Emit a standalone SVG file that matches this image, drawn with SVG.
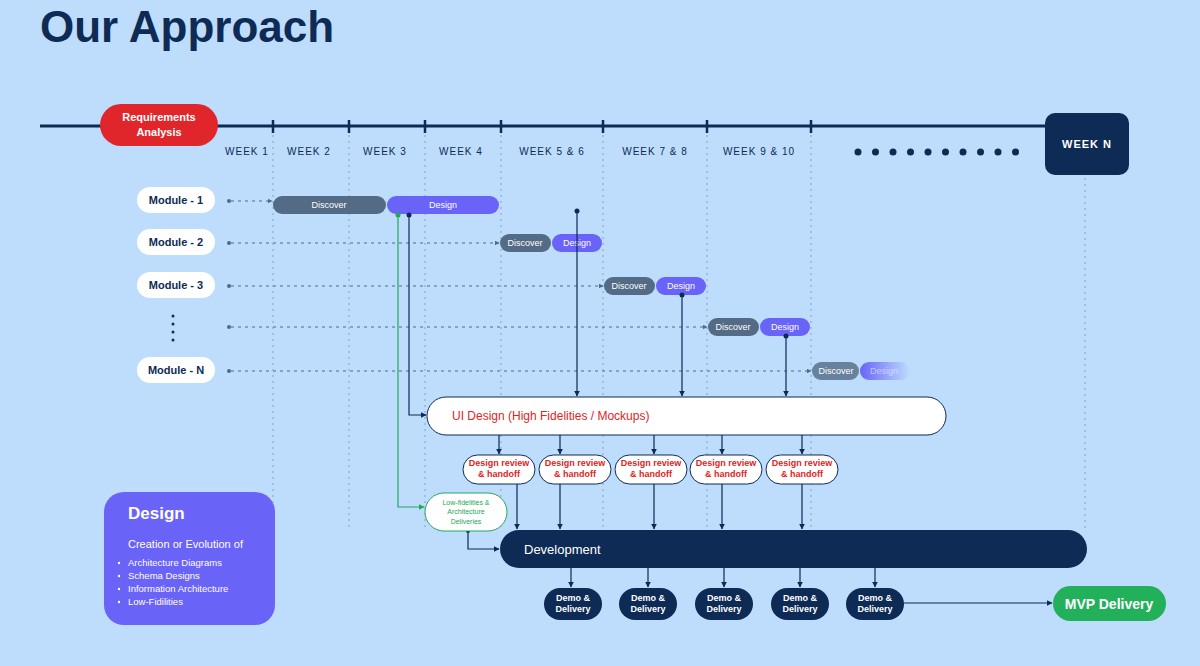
<svg xmlns="http://www.w3.org/2000/svg" width="1200" height="666" viewBox="0 0 1200 666">
<defs>
<marker id="a" viewBox="0 0 10 10" refX="9" refY="5" markerWidth="5" markerHeight="5" orient="auto"><path d="M0,0L10,5L0,10z" fill="#0d2b55"/></marker>
<marker id="ad" viewBox="0 0 10 10" refX="9" refY="5" markerWidth="5" markerHeight="5" orient="auto"><path d="M0,0L10,5L0,10z" fill="#4d6a8a"/></marker>
<marker id="ag" viewBox="0 0 10 10" refX="9" refY="5" markerWidth="5" markerHeight="5" orient="auto"><path d="M0,0L10,5L0,10z" fill="#22a85a"/></marker>
<linearGradient id="fade" x1="0" x2="1"><stop offset="0" stop-color="#6a63f8"/><stop offset="1" stop-color="#6a63f8" stop-opacity="0"/></linearGradient>
</defs>
<style>
text{font-family:"Liberation Sans",Arial,sans-serif}
.wk{font-size:10px;fill:#0d2b55;letter-spacing:1px;text-anchor:middle}
.mod{fill:#fff}
.modt{font-size:11px;font-weight:bold;fill:#0d2b55;text-anchor:middle}
.disc{fill:#536b85}.des{fill:#6a63f8}
.pt{font-size:9px;fill:#fff;text-anchor:middle}
.grid{stroke:#8aa2bd;stroke-width:1;stroke-dasharray:2 4}
.dash{stroke:#4d6a8a;stroke-width:1;stroke-dasharray:3 4;fill:none}
.ln{stroke:#0d2b55;stroke-width:1.2;fill:none}
.rev{fill:#fff;stroke:#0d2b55;stroke-width:1}
.revt{font-size:9px;font-weight:bold;fill:#e02424;text-anchor:middle}
.demo{fill:#0d2b55}
.demot{font-size:9px;font-weight:bold;fill:#fff;text-anchor:middle}
</style>
<rect width="1200" height="666" fill="#bedcfc"/>
<text x="40" y="42" font-size="44" font-weight="bold" fill="#0d2b55">Our Approach</text>
<g id="grid">
<line class="grid" x1="273" y1="135" x2="273" y2="530"/><line class="grid" x1="349" y1="135" x2="349" y2="530"/><line class="grid" x1="425" y1="135" x2="425" y2="530"/><line class="grid" x1="501" y1="135" x2="501" y2="530"/><line class="grid" x1="603" y1="135" x2="603" y2="530"/><line class="grid" x1="707" y1="135" x2="707" y2="530"/><line class="grid" x1="811" y1="135" x2="811" y2="530"/><line class="grid" x1="1085" y1="178" x2="1085" y2="530"/>
</g>
<g id="timeline">
<line x1="40" y1="126" x2="1050" y2="126" stroke="#0d2b55" stroke-width="3"/>
<g stroke="#0d2b55" stroke-width="2.5"><line x1="273" y1="120" x2="273" y2="133"/><line x1="349" y1="120" x2="349" y2="133"/><line x1="425" y1="120" x2="425" y2="133"/><line x1="501" y1="120" x2="501" y2="133"/><line x1="603" y1="120" x2="603" y2="133"/><line x1="707" y1="120" x2="707" y2="133"/><line x1="811" y1="120" x2="811" y2="133"/></g>
<text class="wk" x="247" y="155">WEEK 1</text><text class="wk" x="309" y="155">WEEK 2</text><text class="wk" x="385" y="155">WEEK 3</text><text class="wk" x="461" y="155">WEEK 4</text><text class="wk" x="552" y="155">WEEK 5 &amp; 6</text><text class="wk" x="655" y="155">WEEK 7 &amp; 8</text><text class="wk" x="759" y="155">WEEK 9 &amp; 10</text>
<g fill="#0d2b55"><circle cx="858" cy="152" r="3.5"/><circle cx="875.5" cy="152" r="3.5"/><circle cx="893" cy="152" r="3.5"/><circle cx="910.5" cy="152" r="3.5"/><circle cx="928" cy="152" r="3.5"/><circle cx="945.5" cy="152" r="3.5"/><circle cx="963" cy="152" r="3.5"/><circle cx="980.5" cy="152" r="3.5"/><circle cx="998" cy="152" r="3.5"/><circle cx="1015.5" cy="152" r="3.5"/></g>
</g>
<g id="req"><rect x="100" y="104" width="118" height="42" rx="21" fill="#e0262b"/><text x="159" y="121" font-size="11" font-weight="bold" fill="#fff" text-anchor="middle">Requirements</text><text x="159" y="136" font-size="11" font-weight="bold" fill="#fff" text-anchor="middle">Analysis</text></g>
<g id="weekn"><rect x="1045" y="113" width="84" height="62" rx="10" fill="#0d2b55"/><text x="1087" y="148" font-size="11" font-weight="bold" fill="#fff" text-anchor="middle" letter-spacing="1">WEEK N</text></g>
<g id="modules">
<rect class="mod" x="137" y="187" width="78" height="26" rx="13"/><text class="modt" x="176" y="204">Module - 1</text>
<rect class="mod" x="137" y="229" width="78" height="26" rx="13"/><text class="modt" x="176" y="246">Module - 2</text>
<rect class="mod" x="137" y="272" width="78" height="26" rx="13"/><text class="modt" x="176" y="289">Module - 3</text>
<g fill="#0d2b55"><circle cx="173" cy="316" r="1.5"/><circle cx="173" cy="324" r="1.5"/><circle cx="173" cy="332" r="1.5"/><circle cx="173" cy="340" r="1.5"/></g>
<rect class="mod" x="137" y="357" width="78" height="26" rx="13"/><text class="modt" x="176" y="374">Module - N</text>
</g>
<g id="phases">
<rect class="disc" x="273" y="196" width="113" height="18" rx="9"/><text class="pt" x="329" y="208">Discover</text>
<rect class="des" x="387" y="196" width="112" height="18" rx="9"/><text class="pt" x="443" y="208">Design</text>
<rect class="disc" x="500" y="234" width="51" height="18" rx="9"/><text class="pt" x="525" y="246">Discover</text>
<rect class="des" x="552" y="234" width="50" height="18" rx="9"/><text class="pt" x="577" y="246">Design</text>
<rect class="disc" x="604" y="277" width="51" height="18" rx="9"/><text class="pt" x="629" y="289">Discover</text>
<rect class="des" x="656" y="277" width="50" height="18" rx="9"/><text class="pt" x="681" y="289">Design</text>
<rect class="disc" x="708" y="318" width="51" height="18" rx="9"/><text class="pt" x="733" y="330">Discover</text>
<rect class="des" x="760" y="318" width="50" height="18" rx="9"/><text class="pt" x="785" y="330">Design</text>
<rect class="disc" x="812" y="362" width="47" height="18" rx="9" opacity="0.8"/><text class="pt" x="836" y="374">Discover</text>
<rect x="860" y="362" width="50" height="18" rx="9" fill="url(#fade)"/><text class="pt" x="884" y="374" opacity="0.5">Design</text>
</g>
<g id="connectors">
<circle cx="229" cy="201" r="2" fill="#4d6a8a"/><line class="dash" x1="231" y1="201" x2="272" y2="201" marker-end="url(#ad)"/>
<circle cx="229" cy="243" r="2" fill="#4d6a8a"/><line class="dash" x1="231" y1="243" x2="499" y2="243" marker-end="url(#ad)"/>
<circle cx="229" cy="286" r="2" fill="#4d6a8a"/><line class="dash" x1="231" y1="286" x2="603" y2="286" marker-end="url(#ad)"/>
<circle cx="229" cy="327" r="2" fill="#4d6a8a"/><line class="dash" x1="231" y1="327" x2="707" y2="327" marker-end="url(#ad)"/>
<circle cx="229" cy="371" r="2" fill="#4d6a8a"/><line class="dash" x1="231" y1="371" x2="811" y2="371" marker-end="url(#ad)"/>
<circle cx="577" cy="211" r="2.5" fill="#0d2b55"/><line class="ln" x1="577" y1="211" x2="577" y2="396" marker-end="url(#a)"/>
<circle cx="682" cy="295" r="2.5" fill="#0d2b55"/><line class="ln" x1="682" y1="295" x2="682" y2="396" marker-end="url(#a)"/>
<circle cx="786" cy="336" r="2.5" fill="#0d2b55"/><line class="ln" x1="786" y1="336" x2="786" y2="396" marker-end="url(#a)"/>
<circle cx="409" cy="215" r="2.5" fill="#0d2b55"/><path class="ln" d="M409,215V415H426" marker-end="url(#a)"/>
<circle cx="398" cy="215" r="2.5" fill="#22a85a"/><path d="M398,215V507H424" stroke="#22a85a" stroke-width="1.2" fill="none" marker-end="url(#ag)"/>
<line class="ln" x1="499" y1="435" x2="499" y2="454" marker-end="url(#a)"/>
<line class="ln" x1="560" y1="435" x2="560" y2="454" marker-end="url(#a)"/>
<line class="ln" x1="654" y1="435" x2="654" y2="454" marker-end="url(#a)"/>
<line class="ln" x1="722" y1="435" x2="722" y2="454" marker-end="url(#a)"/>
<line class="ln" x1="802" y1="435" x2="802" y2="454" marker-end="url(#a)"/>
<line class="ln" x1="517" y1="484" x2="517" y2="529" marker-end="url(#a)"/>
<line class="ln" x1="560" y1="484" x2="560" y2="529" marker-end="url(#a)"/>
<line class="ln" x1="654" y1="484" x2="654" y2="529" marker-end="url(#a)"/>
<line class="ln" x1="722" y1="484" x2="722" y2="529" marker-end="url(#a)"/>
<line class="ln" x1="802" y1="484" x2="802" y2="529" marker-end="url(#a)"/>
<circle cx="468" cy="531" r="2" fill="#0d2b55"/><path class="ln" d="M468,531V549H499" marker-end="url(#a)"/>
<line class="ln" x1="571" y1="568" x2="571" y2="587" marker-end="url(#a)"/>
<line class="ln" x1="648" y1="568" x2="648" y2="587" marker-end="url(#a)"/>
<line class="ln" x1="724" y1="568" x2="724" y2="587" marker-end="url(#a)"/>
<line class="ln" x1="800" y1="568" x2="800" y2="587" marker-end="url(#a)"/>
<line class="ln" x1="875" y1="568" x2="875" y2="587" marker-end="url(#a)"/>
<line class="ln" x1="904" y1="603" x2="1052" y2="603" marker-end="url(#a)"/>
</g>
<g id="ui"><rect x="427" y="397" width="519" height="38" rx="19" fill="#fff" stroke="#0d2b55" stroke-width="1"/><text x="452" y="420" font-size="12" fill="#e02424">UI Design (High Fidelities / Mockups)</text></g>
<g id="reviews">
<rect class="rev" x="463" y="455" width="72" height="29" rx="14.5"/><text class="revt" x="499" y="466">Design review</text><text class="revt" x="499" y="477">&amp; handoff</text>
<rect class="rev" x="539" y="455" width="72" height="29" rx="14.5"/><text class="revt" x="575" y="466">Design review</text><text class="revt" x="575" y="477">&amp; handoff</text>
<rect class="rev" x="615" y="455" width="72" height="29" rx="14.5"/><text class="revt" x="651" y="466">Design review</text><text class="revt" x="651" y="477">&amp; handoff</text>
<rect class="rev" x="690" y="455" width="72" height="29" rx="14.5"/><text class="revt" x="726" y="466">Design review</text><text class="revt" x="726" y="477">&amp; handoff</text>
<rect class="rev" x="766" y="455" width="72" height="29" rx="14.5"/><text class="revt" x="802" y="466">Design review</text><text class="revt" x="802" y="477">&amp; handoff</text>
</g>
<g id="lowfi"><rect x="425" y="493" width="82" height="38" rx="19" fill="#fff" stroke="#22a85a" stroke-width="1"/><g font-size="7" fill="#22a85a" text-anchor="middle"><text x="466" y="505">Low-fidelities &amp;</text><text x="466" y="514">Architecture</text><text x="466" y="524">Deliveries</text></g></g>
<g id="dev"><rect x="500" y="530" width="587" height="38" rx="19" fill="#0d2b55"/><text x="524" y="554" font-size="13" fill="#fff">Development</text></g>
<g id="demos">
<rect class="demo" x="544" y="588" width="58" height="32" rx="16"/><text class="demot" x="573" y="601">Demo &amp;</text><text class="demot" x="573" y="612">Delivery</text>
<rect class="demo" x="619" y="588" width="58" height="32" rx="16"/><text class="demot" x="648" y="601">Demo &amp;</text><text class="demot" x="648" y="612">Delivery</text>
<rect class="demo" x="695" y="588" width="58" height="32" rx="16"/><text class="demot" x="724" y="601">Demo &amp;</text><text class="demot" x="724" y="612">Delivery</text>
<rect class="demo" x="771" y="588" width="58" height="32" rx="16"/><text class="demot" x="800" y="601">Demo &amp;</text><text class="demot" x="800" y="612">Delivery</text>
<rect class="demo" x="846" y="588" width="58" height="32" rx="16"/><text class="demot" x="875" y="601">Demo &amp;</text><text class="demot" x="875" y="612">Delivery</text>
</g>
<g id="mvp"><rect x="1053" y="586" width="113" height="35" rx="17.5" fill="#22b05a"/><text x="1109" y="609" font-size="14" font-weight="bold" fill="#fff" text-anchor="middle">MVP Delivery</text></g>
<g id="designbox"><rect x="104" y="492" width="171" height="133" rx="20" fill="#6a63f8"/>
<text x="128" y="519" font-size="17" font-weight="bold" fill="#fff">Design</text>
<text x="128" y="548" font-size="11" fill="#fff">Creation or Evolution of</text>
<g font-size="9.5" fill="#fff"><text x="128" y="566">Architecture Diagrams</text><text x="128" y="579">Schema Designs</text><text x="128" y="592">Information Architecture</text><text x="128" y="605">Low-Fidilities</text></g>
<g fill="#fff"><circle cx="119" cy="563" r="1.2"/><circle cx="119" cy="576" r="1.2"/><circle cx="119" cy="589" r="1.2"/><circle cx="119" cy="602" r="1.2"/></g>
</g>
</svg>
